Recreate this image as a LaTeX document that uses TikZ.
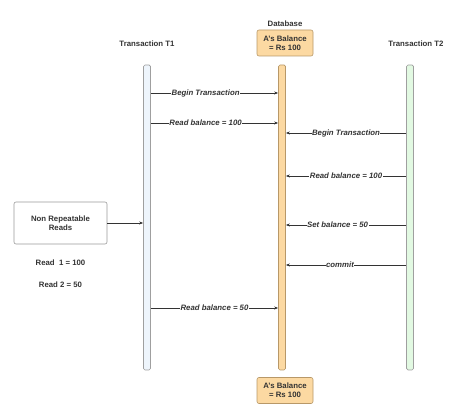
\documentclass[tikz,border=0pt]{standalone}
\usepackage{fontspec}
\setmainfont{Liberation Sans}
\usepackage{tikz}
\usetikzlibrary{arrows.meta, positioning}

\definecolor{tone}{HTML}{EEF5FC}
\definecolor{dbfill}{HTML}{FCD9A2}
\definecolor{dbline}{HTML}{B89868}
\definecolor{ttwo}{HTML}{E2F9E2}
\definecolor{ink}{HTML}{333333}

\begin{document}
\begin{tikzpicture}[
    x=1pt, y=-1pt,
    font=\fontsize{7.8}{9.2}\selectfont\bfseries, text=ink,
    lifeline/.style={draw, line width=0.7pt, rounded corners=1.5pt, minimum width=7pt, minimum height=305pt, inner sep=0pt},
    dbbox/.style={draw=dbline, line width=0.6pt, fill=dbfill, rounded corners=2pt, minimum width=56pt, minimum height=26pt, align=center, inner sep=1pt},
    ar/.style={-{Stealth[length=4pt, width=3pt]}, draw=ink, line width=0.5pt},
    msg/.style={fill=white, inner sep=0.5pt, font=\fontsize{7.8}{9.2}\selectfont\bfseries\itshape}
]
\useasboundingbox (0,0) rectangle (474,419);
% lifelines
\node[lifeline, draw=gray!75, fill=tone] (t1) at (147,217.5) {};
\node[lifeline, draw=dbline, fill=dbfill] (db) at (282,217.5) {};
\node[lifeline, draw=gray!75, fill=ttwo] (t2) at (410,217.5) {};
% headers
\node (t1head) at (147,44) {Transaction T1};
\node (t2head) at (416,44) {Transaction T2};
\node[dbbox] (bal) at (285,43) {A's Balance\\= Rs 100};
\node[above=0pt of bal] (dbhead) {Database};
\node[dbbox] (balend) at (285,390.5) {A's Balance\\= Rs 100};
% message rows
\coordinate (m1) at (0,93);
\coordinate (m2) at (0,123);
\coordinate (m3) at (0,133);
\coordinate (m4) at (0,176);
\coordinate (m5) at (0,225);
\coordinate (m6) at (0,265);
\coordinate (m7) at (0,308);
\draw[ar] (t1.east |- m1) -- node[msg, pos=0.43]{Begin Transaction} (db.west |- m1);
\draw[ar] (t1.east |- m2) -- node[msg, pos=0.43]{Read balance = 100} (db.west |- m2);
\draw[ar] (t2.west |- m3) -- node[msg]{Begin Transaction} (db.east |- m3);
\draw[ar] (t2.west |- m4) -- node[msg]{Read balance = 100} (db.east |- m4);
\draw[ar] (t2.west |- m5) -- node[msg, pos=0.57]{Set balance = 50} (db.east |- m5);
\draw[ar] (t2.west |- m6) -- node[msg, pos=0.55]{commit} (db.east |- m6);
\draw[ar] (t1.east |- m7) -- node[msg]{Read balance = 50} (db.west |- m7);
% anomaly note
\node[draw=gray!80, line width=0.6pt, rounded corners=2pt, minimum width=93pt, minimum height=42pt, align=center] (nrr) at (60.5,223) {Non Repeatable\\Reads};
\draw[ar] (nrr.east) -- (t1.west |- nrr.east);
\node[below=12pt of nrr] (r1) {Read\ \ 1 = 100};
\node[below=9pt of r1] (r2) {Read 2 = 50};
\end{tikzpicture}
\end{document}
